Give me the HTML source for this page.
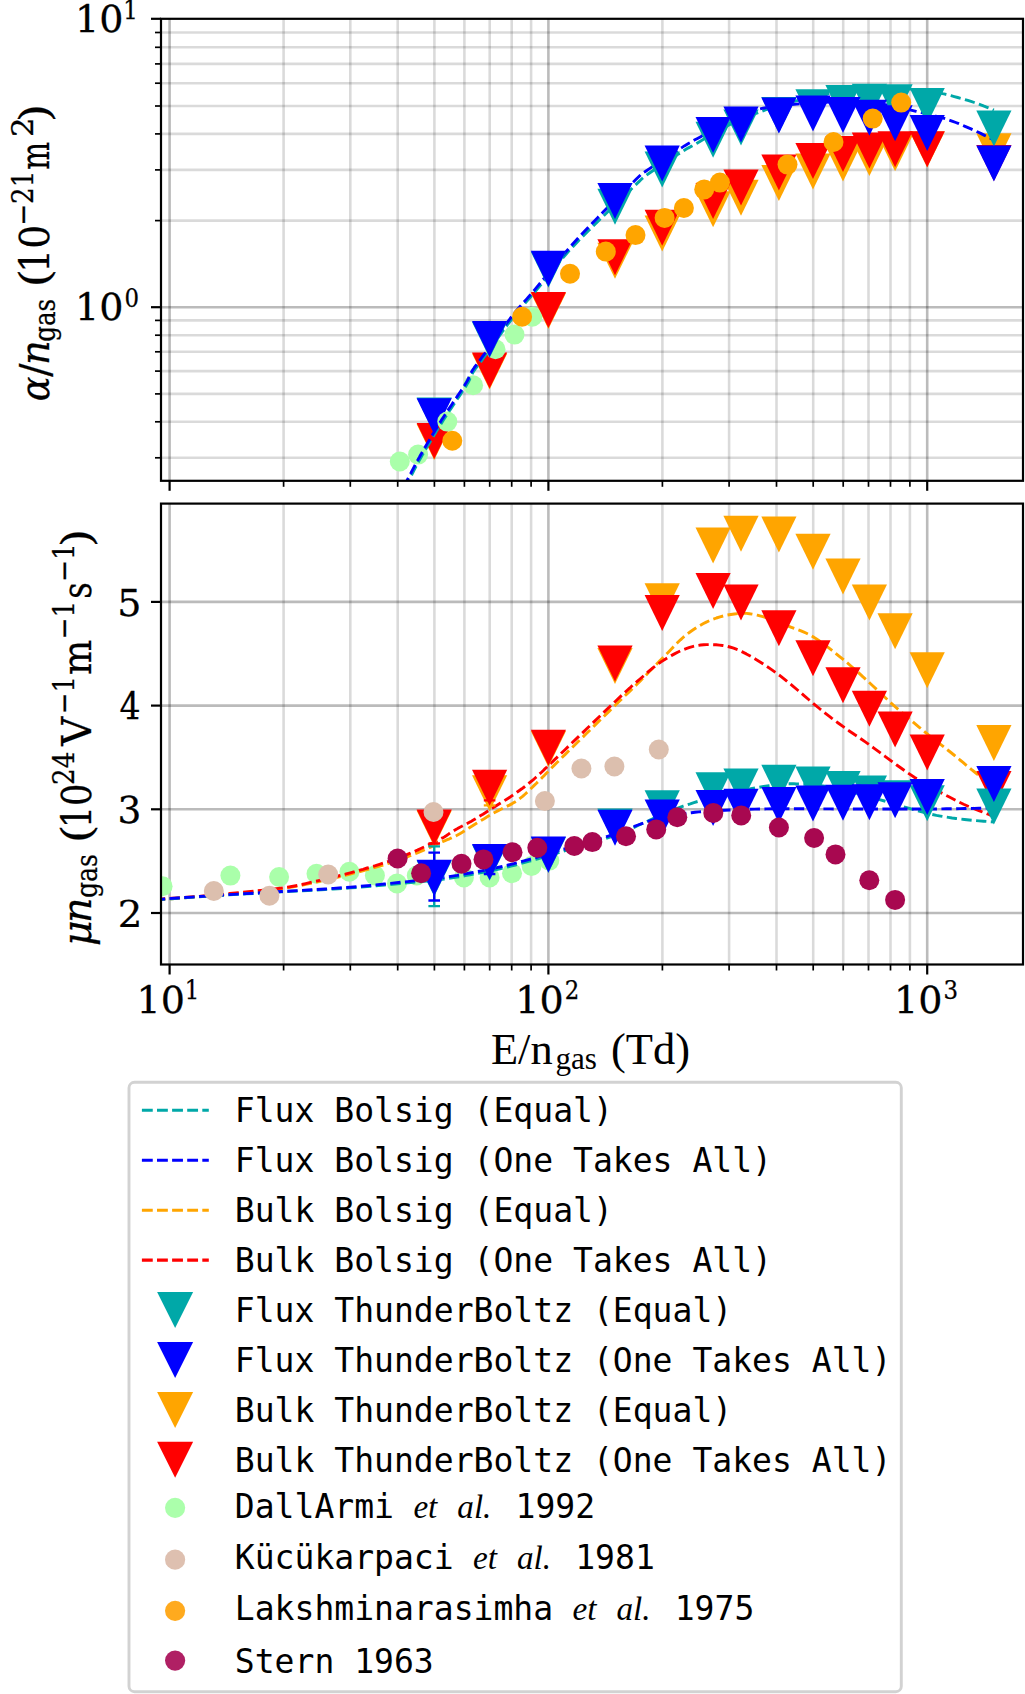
<!DOCTYPE html>
<html lang="en"><head><meta charset="utf-8"><title>Transport coefficients</title>
<style>html,body{margin:0;padding:0;background:#fff}svg{display:block}</style></head>
<body>
<svg width="1025" height="1694" viewBox="0 0 1025 1694">
<rect width="1025" height="1694" fill="#fff"/>
<defs><clipPath id="c1"><rect x="161.0" y="18.8" width="862.0" height="462.0"/></clipPath><clipPath id="c2"><rect x="161.0" y="503.6" width="862.0" height="460.9"/></clipPath></defs>
<g clip-path="url(#c1)">
<line x1="283.6" x2="283.6" y1="18.8" y2="480.8" stroke="#000" stroke-opacity="0.145" stroke-width="2.6"/><line x1="350.3" x2="350.3" y1="18.8" y2="480.8" stroke="#000" stroke-opacity="0.145" stroke-width="2.6"/><line x1="397.7" x2="397.7" y1="18.8" y2="480.8" stroke="#000" stroke-opacity="0.145" stroke-width="2.6"/><line x1="434.4" x2="434.4" y1="18.8" y2="480.8" stroke="#000" stroke-opacity="0.145" stroke-width="2.6"/><line x1="464.4" x2="464.4" y1="18.8" y2="480.8" stroke="#000" stroke-opacity="0.145" stroke-width="2.6"/><line x1="489.7" x2="489.7" y1="18.8" y2="480.8" stroke="#000" stroke-opacity="0.145" stroke-width="2.6"/><line x1="511.7" x2="511.7" y1="18.8" y2="480.8" stroke="#000" stroke-opacity="0.145" stroke-width="2.6"/><line x1="531.1" x2="531.1" y1="18.8" y2="480.8" stroke="#000" stroke-opacity="0.145" stroke-width="2.6"/><line x1="662.4" x2="662.4" y1="18.8" y2="480.8" stroke="#000" stroke-opacity="0.145" stroke-width="2.6"/><line x1="729.1" x2="729.1" y1="18.8" y2="480.8" stroke="#000" stroke-opacity="0.145" stroke-width="2.6"/><line x1="776.5" x2="776.5" y1="18.8" y2="480.8" stroke="#000" stroke-opacity="0.145" stroke-width="2.6"/><line x1="813.2" x2="813.2" y1="18.8" y2="480.8" stroke="#000" stroke-opacity="0.145" stroke-width="2.6"/><line x1="843.2" x2="843.2" y1="18.8" y2="480.8" stroke="#000" stroke-opacity="0.145" stroke-width="2.6"/><line x1="868.5" x2="868.5" y1="18.8" y2="480.8" stroke="#000" stroke-opacity="0.145" stroke-width="2.6"/><line x1="890.5" x2="890.5" y1="18.8" y2="480.8" stroke="#000" stroke-opacity="0.145" stroke-width="2.6"/><line x1="909.9" x2="909.9" y1="18.8" y2="480.8" stroke="#000" stroke-opacity="0.145" stroke-width="2.6"/><line x1="169.6" x2="169.6" y1="18.8" y2="480.8" stroke="#000" stroke-opacity="0.265" stroke-width="2.6"/><line x1="548.4" x2="548.4" y1="18.8" y2="480.8" stroke="#000" stroke-opacity="0.265" stroke-width="2.6"/><line x1="927.2" x2="927.2" y1="18.8" y2="480.8" stroke="#000" stroke-opacity="0.265" stroke-width="2.6"/>
<line x1="161.0" x2="1023.0" y1="457.8" y2="457.8" stroke="#000" stroke-opacity="0.145" stroke-width="2.6"/>
<line x1="161.0" x2="1023.0" y1="421.8" y2="421.8" stroke="#000" stroke-opacity="0.145" stroke-width="2.6"/>
<line x1="161.0" x2="1023.0" y1="393.9" y2="393.9" stroke="#000" stroke-opacity="0.145" stroke-width="2.6"/>
<line x1="161.0" x2="1023.0" y1="371.1" y2="371.1" stroke="#000" stroke-opacity="0.145" stroke-width="2.6"/>
<line x1="161.0" x2="1023.0" y1="351.8" y2="351.8" stroke="#000" stroke-opacity="0.145" stroke-width="2.6"/>
<line x1="161.0" x2="1023.0" y1="335.2" y2="335.2" stroke="#000" stroke-opacity="0.145" stroke-width="2.6"/>
<line x1="161.0" x2="1023.0" y1="320.4" y2="320.4" stroke="#000" stroke-opacity="0.145" stroke-width="2.6"/>
<line x1="161.0" x2="1023.0" y1="220.6" y2="220.6" stroke="#000" stroke-opacity="0.145" stroke-width="2.6"/>
<line x1="161.0" x2="1023.0" y1="169.9" y2="169.9" stroke="#000" stroke-opacity="0.145" stroke-width="2.6"/>
<line x1="161.0" x2="1023.0" y1="133.9" y2="133.9" stroke="#000" stroke-opacity="0.145" stroke-width="2.6"/>
<line x1="161.0" x2="1023.0" y1="106.0" y2="106.0" stroke="#000" stroke-opacity="0.145" stroke-width="2.6"/>
<line x1="161.0" x2="1023.0" y1="83.2" y2="83.2" stroke="#000" stroke-opacity="0.145" stroke-width="2.6"/>
<line x1="161.0" x2="1023.0" y1="63.9" y2="63.9" stroke="#000" stroke-opacity="0.145" stroke-width="2.6"/>
<line x1="161.0" x2="1023.0" y1="47.3" y2="47.3" stroke="#000" stroke-opacity="0.145" stroke-width="2.6"/>
<line x1="161.0" x2="1023.0" y1="32.5" y2="32.5" stroke="#000" stroke-opacity="0.145" stroke-width="2.6"/>
<line x1="161.0" x2="1023.0" y1="307.2" y2="307.2" stroke="#000" stroke-opacity="0.265" stroke-width="2.6"/>
<polygon points="416.6,424.0 451.8,424.0 434.2,460.0" fill="#ffa500"/>
<polygon points="416.6,422.9 451.8,422.9 434.2,458.9" fill="#ff0000"/>
<polygon points="416.6,397.4 451.8,397.4 434.2,433.4" fill="#00a8a8"/>
<polygon points="416.6,398.3 451.8,398.3 434.2,434.3" fill="#0000ff"/>
<polygon points="472.0,353.6 507.2,353.6 489.6,389.6" fill="#ffa500"/><polygon points="530.8,293.0 566.0,293.0 548.4,329.0" fill="#ffa500"/><polygon points="597.4,242.8 632.6,242.8 615.0,278.8" fill="#ffa500"/><polygon points="644.6,215.4 679.8,215.4 662.2,251.4" fill="#ffa500"/><polygon points="695.5,191.3 730.7,191.3 713.1,227.3" fill="#ffa500"/><polygon points="723.4,179.8 758.6,179.8 741.0,215.8" fill="#ffa500"/><polygon points="761.3,164.9 796.5,164.9 778.9,200.9" fill="#ffa500"/><polygon points="795.4,153.5 830.6,153.5 813.0,189.5" fill="#ffa500"/><polygon points="825.4,145.5 860.6,145.5 843.0,181.5" fill="#ffa500"/><polygon points="851.8,140.0 887.0,140.0 869.4,176.0" fill="#ffa500"/><polygon points="877.5,135.2 912.7,135.2 895.1,171.2" fill="#ffa500"/><polygon points="909.6,131.5 944.8,131.5 927.2,167.5" fill="#ffa500"/><polygon points="976.3,133.2 1011.5,133.2 993.9,169.2" fill="#ffa500"/>
<polygon points="472.0,352.6 507.2,352.6 489.6,388.6" fill="#ff0000"/>
<circle cx="399.8" cy="461.5" r="10.0" fill="#aaffaa"/><circle cx="418.1" cy="454.6" r="10.0" fill="#aaffaa"/><circle cx="447.3" cy="421.6" r="10.0" fill="#aaffaa"/><circle cx="473.1" cy="385.3" r="10.0" fill="#aaffaa"/><circle cx="495.5" cy="349.3" r="10.0" fill="#aaffaa"/><circle cx="514.5" cy="334.6" r="10.0" fill="#aaffaa"/><circle cx="532.3" cy="316.8" r="10.0" fill="#aaffaa"/>
<polygon points="530.8,292.0 566.0,292.0 548.4,328.0" fill="#ff0000"/><polygon points="597.4,239.2 632.6,239.2 615.0,275.2" fill="#ff0000"/><polygon points="644.6,209.7 679.8,209.7 662.2,245.7" fill="#ff0000"/><polygon points="695.5,183.1 730.7,183.1 713.1,219.1" fill="#ff0000"/><polygon points="723.4,169.6 758.6,169.6 741.0,205.6" fill="#ff0000"/><polygon points="761.3,154.4 796.5,154.4 778.9,190.4" fill="#ff0000"/><polygon points="795.4,143.1 830.6,143.1 813.0,179.1" fill="#ff0000"/><polygon points="825.4,136.0 860.6,136.0 843.0,172.0" fill="#ff0000"/><polygon points="851.8,132.5 887.0,132.5 869.4,168.5" fill="#ff0000"/><polygon points="877.5,131.3 912.7,131.3 895.1,167.3" fill="#ff0000"/><polygon points="909.6,131.2 944.8,131.2 927.2,167.2" fill="#ff0000"/><polygon points="976.3,144.9 1011.5,144.9 993.9,180.9" fill="#ff0000"/>
<path d="M404.5,488.3 L404.9,487.6 L405.3,486.8 L405.9,485.8 L406.5,484.7 L407.1,483.5 L407.9,482.1 L408.7,480.6 L409.6,478.9 L410.5,477.1 L411.6,475.1 L412.6,473.0 L413.8,470.7 L415.0,468.4 L416.3,465.9 L417.6,463.4 L419.0,460.9 L420.5,458.3 L422.0,455.5 L423.7,452.7 L425.4,449.7 L427.1,446.8 L428.9,443.9 L430.6,441.0 L432.2,438.3 L433.8,435.6 L435.4,433.0 L436.9,430.4 L438.5,427.9 L440.0,425.4 L441.6,422.9 L443.1,420.4 L444.7,418.0 L446.3,415.6 L447.9,413.1 L449.5,410.7 L451.1,408.4 L452.7,406.0 L454.2,403.7 L455.7,401.5 L457.2,399.3 L458.6,397.2 L460.0,395.1 L461.4,393.0 L462.7,391.0 L464.0,389.1 L465.2,387.2 L466.3,385.4 L467.4,383.6 L468.4,381.9 L469.2,380.3 L469.9,378.7 L470.6,377.2 L471.3,375.7 L472.0,374.3 L472.7,372.9 L473.5,371.5 L474.3,370.3 L475.0,369.3 L475.6,368.4 L476.3,367.5 L477.1,366.6 L478.0,365.4 L479.1,363.9 L480.5,362.1 L482.1,359.8 L484.0,357.2 L486.1,354.3 L488.3,351.1 L490.6,347.9 L492.9,344.6 L495.2,341.4 L497.5,338.3 L499.7,335.3 L502.0,332.2 L504.3,329.1 L506.6,326.0 L508.9,322.9 L511.2,319.8 L513.6,316.8 L516.0,313.8 L518.3,311.0 L520.6,308.3 L522.9,305.7 L525.2,303.1 L527.6,300.4 L530.1,297.6 L532.8,294.4 L535.8,290.9 L539.1,286.9 L542.7,282.5 L546.5,277.8 L550.4,272.9 L554.5,267.9 L558.4,263.1 L562.3,258.5 L566.0,254.2 L569.4,250.4 L572.6,246.9 L575.7,243.7 L578.7,240.5 L581.8,237.3 L585.2,234.0 L588.9,230.3 L593.0,226.2 L597.8,221.4 L603.4,216.0 L609.3,210.2 L615.4,204.2 L621.5,198.4 L627.1,193.0 L632.1,188.2 L636.1,184.4 L639.0,181.6 L640.9,179.8 L642.2,178.5 L643.1,177.7 L643.9,177.0 L644.9,176.3 L646.4,175.2 L648.8,173.5 L652.1,171.2 L656.0,168.5 L660.5,165.6 L665.1,162.6 L669.8,159.5 L674.3,156.6 L678.4,154.1 L681.8,151.9 L684.4,150.3 L686.4,149.1 L688.0,148.1 L689.4,147.4 L690.8,146.6 L692.4,145.8 L694.4,144.7 L697.0,143.2 L700.3,141.3 L704.0,139.1 L708.1,136.7 L712.4,134.2 L716.8,131.6 L721.3,129.1 L725.8,126.7 L730.0,124.5 L734.2,122.5 L738.4,120.6 L742.6,118.8 L746.9,117.0 L751.1,115.3 L755.2,113.7 L759.2,112.2 L763.0,110.8 L766.7,109.5 L770.3,108.3 L773.7,107.2 L777.1,106.1 L780.4,105.2 L783.7,104.3 L786.9,103.4 L790.0,102.5 L793.0,101.7 L795.9,100.9 L798.6,100.3 L801.3,99.6 L804.0,99.0 L806.9,98.3 L809.8,97.7 L813.0,97.0 L816.4,96.3 L820.1,95.5 L823.9,94.7 L827.8,93.8 L831.7,93.1 L835.6,92.3 L839.4,91.6 L843.0,91.0 L846.4,90.5 L849.8,90.0 L853.0,89.5 L856.2,89.1 L859.4,88.8 L862.6,88.5 L865.8,88.2 L869.0,88.0 L872.2,87.8 L875.4,87.7 L878.5,87.7 L881.6,87.6 L884.8,87.7 L888.1,87.7 L891.5,87.9 L895.0,88.0 L898.8,88.2 L902.9,88.4 L907.2,88.7 L911.5,89.1 L915.8,89.4 L919.8,89.8 L923.6,90.2 L927.0,90.6 L929.9,91.0 L932.3,91.3 L934.4,91.7 L936.4,92.1 L938.3,92.5 L940.3,93.0 L942.5,93.6 L945.0,94.2 L947.9,94.9 L951.0,95.7 L954.3,96.6 L957.7,97.5 L961.1,98.4 L964.5,99.4 L967.8,100.4 L971.0,101.4 L974.2,102.5 L977.5,103.7 L980.8,104.9 L984.1,106.2 L987.1,107.3 L989.9,108.4 L992.2,109.3 L993.9,110.0" fill="none" stroke="#00a8a8" stroke-width="2.9" stroke-dasharray="10.3 4.45" stroke-dashoffset="0" stroke-linejoin="round"/>
<path d="M403.5,487.0 L403.9,486.3 L404.3,485.5 L404.9,484.5 L405.5,483.4 L406.1,482.2 L406.9,480.8 L407.7,479.3 L408.6,477.6 L409.5,475.8 L410.6,473.8 L411.6,471.7 L412.8,469.4 L414.0,467.1 L415.3,464.6 L416.6,462.1 L418.0,459.6 L419.5,457.0 L421.0,454.2 L422.7,451.4 L424.4,448.4 L426.1,445.5 L427.9,442.6 L429.6,439.7 L431.2,437.0 L432.8,434.3 L434.4,431.7 L435.9,429.1 L437.5,426.6 L439.0,424.1 L440.6,421.6 L442.1,419.1 L443.7,416.7 L445.3,414.3 L446.9,411.8 L448.5,409.4 L450.1,407.1 L451.7,404.7 L453.2,402.4 L454.7,400.2 L456.2,398.0 L457.6,395.9 L459.0,393.8 L460.4,391.7 L461.7,389.7 L463.0,387.8 L464.2,385.9 L465.3,384.1 L466.4,382.3 L467.4,380.6 L468.2,379.0 L468.9,377.4 L469.6,375.9 L470.3,374.4 L471.0,373.0 L471.7,371.6 L472.5,370.2 L473.3,369.0 L474.0,368.0 L474.6,367.1 L475.3,366.2 L476.1,365.3 L477.0,364.1 L478.1,362.6 L479.5,360.8 L481.1,358.5 L483.0,355.9 L485.1,353.0 L487.3,349.8 L489.6,346.6 L491.9,343.3 L494.2,340.1 L496.5,337.0 L498.7,334.0 L501.0,330.9 L503.3,327.8 L505.6,324.7 L507.9,321.6 L510.2,318.5 L512.6,315.5 L515.0,312.5 L517.3,309.7 L519.6,307.0 L521.9,304.4 L524.2,301.8 L526.6,299.1 L529.1,296.3 L531.8,293.1 L534.8,289.6 L538.1,285.6 L541.7,281.3 L545.5,276.6 L549.4,271.7 L553.4,266.8 L557.4,262.0 L561.3,257.3 L565.0,252.9 L568.5,248.9 L571.8,245.1 L575.0,241.6 L578.2,238.0 L581.5,234.5 L585.0,230.8 L588.8,226.8 L593.0,222.4 L597.9,217.4 L603.4,211.7 L609.4,205.7 L615.5,199.6 L621.5,193.6 L627.1,188.1 L632.1,183.2 L636.1,179.3 L639.0,176.5 L640.9,174.7 L642.2,173.6 L643.1,172.9 L643.9,172.3 L644.9,171.7 L646.4,170.7 L648.8,169.1 L652.1,166.9 L656.0,164.2 L660.5,161.3 L665.1,158.3 L669.8,155.2 L674.3,152.4 L678.4,149.8 L681.8,147.6 L684.4,145.9 L686.4,144.7 L688.0,143.7 L689.4,142.9 L690.8,142.1 L692.4,141.2 L694.4,140.1 L697.0,138.7 L700.3,136.9 L704.0,134.8 L708.1,132.5 L712.4,130.1 L716.8,127.7 L721.3,125.3 L725.8,123.0 L730.0,121.0 L734.0,119.1 L737.9,117.3 L741.6,115.5 L745.4,113.8 L749.4,112.2 L753.6,110.8 L758.1,109.4 L763.0,108.2 L768.5,107.2 L774.5,106.3 L780.8,105.5 L787.4,104.9 L794.0,104.3 L800.6,103.8 L807.0,103.4 L813.0,103.0 L818.7,102.6 L824.3,102.3 L829.8,102.1 L835.2,101.9 L840.5,101.8 L845.7,101.8 L850.9,101.9 L856.0,102.0 L861.2,102.3 L866.6,102.7 L872.0,103.1 L877.2,103.7 L882.3,104.3 L887.0,104.9 L891.3,105.5 L895.0,106.0 L898.0,106.5 L900.4,107.0 L902.3,107.4 L903.9,107.9 L905.3,108.4 L906.7,108.8 L908.2,109.3 L910.0,109.8 L912.0,110.3 L914.0,110.8 L916.1,111.3 L918.2,111.8 L920.3,112.3 L922.5,112.9 L924.7,113.4 L927.0,114.0 L929.3,114.6 L931.7,115.1 L934.1,115.7 L936.6,116.3 L939.1,116.9 L941.6,117.6 L944.3,118.4 L947.0,119.3 L949.8,120.3 L952.7,121.4 L955.8,122.5 L958.8,123.7 L961.9,125.0 L965.0,126.3 L968.0,127.6 L971.0,128.9 L974.1,130.3 L977.3,131.8 L980.7,133.4 L984.0,135.1 L987.0,136.6 L989.8,138.0 L992.1,139.1 L993.9,140.0" fill="none" stroke="#0000ff" stroke-width="2.9" stroke-dasharray="10.3 4.45" stroke-dashoffset="0" stroke-linejoin="round"/>
<polygon points="472.0,321.9 507.2,321.9 489.6,357.9" fill="#00a8a8"/><polygon points="530.8,251.8 566.0,251.8 548.4,287.8" fill="#00a8a8"/><polygon points="597.4,188.7 632.6,188.7 615.0,224.7" fill="#00a8a8"/><polygon points="644.6,151.4 679.8,151.4 662.2,187.4" fill="#00a8a8"/><polygon points="695.5,121.7 730.7,121.7 713.1,157.7" fill="#00a8a8"/><polygon points="723.4,109.5 758.6,109.5 741.0,145.5" fill="#00a8a8"/><polygon points="761.3,97.0 796.5,97.0 778.9,133.0" fill="#00a8a8"/><polygon points="795.4,89.3 830.6,89.3 813.0,125.3" fill="#00a8a8"/><polygon points="825.4,85.1 860.6,85.1 843.0,121.1" fill="#00a8a8"/><polygon points="851.8,83.7 887.0,83.7 869.4,119.7" fill="#00a8a8"/><polygon points="877.5,84.2 912.7,84.2 895.1,120.2" fill="#00a8a8"/><polygon points="909.6,88.1 944.8,88.1 927.2,124.1" fill="#00a8a8"/><polygon points="976.3,110.5 1011.5,110.5 993.9,146.5" fill="#00a8a8"/>
<polygon points="472.0,320.9 507.2,320.9 489.6,356.9" fill="#0000ff"/><polygon points="530.8,250.8 566.0,250.8 548.4,286.8" fill="#0000ff"/><polygon points="597.4,183.1 632.6,183.1 615.0,219.1" fill="#0000ff"/><polygon points="644.6,145.5 679.8,145.5 662.2,181.5" fill="#0000ff"/><polygon points="695.5,117.1 730.7,117.1 713.1,153.1" fill="#0000ff"/><polygon points="723.4,106.4 758.6,106.4 741.0,142.4" fill="#0000ff"/><polygon points="761.3,97.6 796.5,97.6 778.9,133.6" fill="#0000ff"/><polygon points="795.4,95.6 830.6,95.6 813.0,131.6" fill="#0000ff"/><polygon points="825.4,97.0 860.6,97.0 843.0,133.0" fill="#0000ff"/><polygon points="851.8,99.8 887.0,99.8 869.4,135.8" fill="#0000ff"/><polygon points="877.5,105.3 912.7,105.3 895.1,141.3" fill="#0000ff"/><polygon points="909.6,115.0 944.8,115.0 927.2,151.0" fill="#0000ff"/><polygon points="976.3,145.6 1011.5,145.6 993.9,181.6" fill="#0000ff"/>
<circle cx="452.3" cy="440.7" r="10.0" fill="#ffa500"/><circle cx="522.1" cy="316.8" r="10.0" fill="#ffa500"/><circle cx="570.0" cy="273.8" r="10.0" fill="#ffa500"/><circle cx="605.8" cy="251.6" r="10.0" fill="#ffa500"/><circle cx="635.5" cy="235.1" r="10.0" fill="#ffa500"/><circle cx="664.6" cy="217.9" r="10.0" fill="#ffa500"/><circle cx="683.9" cy="208.0" r="10.0" fill="#ffa500"/><circle cx="704.2" cy="189.4" r="10.0" fill="#ffa500"/><circle cx="719.9" cy="182.6" r="10.0" fill="#ffa500"/><circle cx="787.5" cy="164.6" r="10.0" fill="#ffa500"/><circle cx="833.5" cy="142.0" r="10.0" fill="#ffa500"/><circle cx="872.7" cy="118.6" r="10.0" fill="#ffa500"/><circle cx="901.2" cy="102.6" r="10.0" fill="#ffa500"/>
</g>
<g clip-path="url(#c2)">
<line x1="283.6" x2="283.6" y1="503.6" y2="964.5" stroke="#000" stroke-opacity="0.145" stroke-width="2.6"/><line x1="350.3" x2="350.3" y1="503.6" y2="964.5" stroke="#000" stroke-opacity="0.145" stroke-width="2.6"/><line x1="397.7" x2="397.7" y1="503.6" y2="964.5" stroke="#000" stroke-opacity="0.145" stroke-width="2.6"/><line x1="434.4" x2="434.4" y1="503.6" y2="964.5" stroke="#000" stroke-opacity="0.145" stroke-width="2.6"/><line x1="464.4" x2="464.4" y1="503.6" y2="964.5" stroke="#000" stroke-opacity="0.145" stroke-width="2.6"/><line x1="489.7" x2="489.7" y1="503.6" y2="964.5" stroke="#000" stroke-opacity="0.145" stroke-width="2.6"/><line x1="511.7" x2="511.7" y1="503.6" y2="964.5" stroke="#000" stroke-opacity="0.145" stroke-width="2.6"/><line x1="531.1" x2="531.1" y1="503.6" y2="964.5" stroke="#000" stroke-opacity="0.145" stroke-width="2.6"/><line x1="662.4" x2="662.4" y1="503.6" y2="964.5" stroke="#000" stroke-opacity="0.145" stroke-width="2.6"/><line x1="729.1" x2="729.1" y1="503.6" y2="964.5" stroke="#000" stroke-opacity="0.145" stroke-width="2.6"/><line x1="776.5" x2="776.5" y1="503.6" y2="964.5" stroke="#000" stroke-opacity="0.145" stroke-width="2.6"/><line x1="813.2" x2="813.2" y1="503.6" y2="964.5" stroke="#000" stroke-opacity="0.145" stroke-width="2.6"/><line x1="843.2" x2="843.2" y1="503.6" y2="964.5" stroke="#000" stroke-opacity="0.145" stroke-width="2.6"/><line x1="868.5" x2="868.5" y1="503.6" y2="964.5" stroke="#000" stroke-opacity="0.145" stroke-width="2.6"/><line x1="890.5" x2="890.5" y1="503.6" y2="964.5" stroke="#000" stroke-opacity="0.145" stroke-width="2.6"/><line x1="909.9" x2="909.9" y1="503.6" y2="964.5" stroke="#000" stroke-opacity="0.145" stroke-width="2.6"/><line x1="169.6" x2="169.6" y1="503.6" y2="964.5" stroke="#000" stroke-opacity="0.265" stroke-width="2.6"/><line x1="548.4" x2="548.4" y1="503.6" y2="964.5" stroke="#000" stroke-opacity="0.265" stroke-width="2.6"/><line x1="927.2" x2="927.2" y1="503.6" y2="964.5" stroke="#000" stroke-opacity="0.265" stroke-width="2.6"/>
<line x1="161.0" x2="1023.0" y1="913.0" y2="913.0" stroke="#000" stroke-opacity="0.265" stroke-width="2.6"/>
<line x1="161.0" x2="1023.0" y1="809.3" y2="809.3" stroke="#000" stroke-opacity="0.265" stroke-width="2.6"/>
<line x1="161.0" x2="1023.0" y1="705.6" y2="705.6" stroke="#000" stroke-opacity="0.265" stroke-width="2.6"/>
<line x1="161.0" x2="1023.0" y1="601.9" y2="601.9" stroke="#000" stroke-opacity="0.265" stroke-width="2.6"/>
<circle cx="162.6" cy="886.3" r="10.0" fill="#aaffaa"/><circle cx="230.4" cy="875.6" r="10.0" fill="#aaffaa"/><circle cx="279.1" cy="877.0" r="10.0" fill="#aaffaa"/><circle cx="316.5" cy="873.7" r="10.0" fill="#aaffaa"/><circle cx="349.4" cy="871.8" r="10.0" fill="#aaffaa"/><circle cx="374.9" cy="875.5" r="10.0" fill="#aaffaa"/><circle cx="397.0" cy="883.5" r="10.0" fill="#aaffaa"/><circle cx="416.8" cy="875.5" r="10.0" fill="#aaffaa"/><circle cx="463.9" cy="877.4" r="10.0" fill="#aaffaa"/><circle cx="489.6" cy="877.4" r="10.0" fill="#aaffaa"/><circle cx="512.0" cy="873.3" r="10.0" fill="#aaffaa"/><circle cx="531.6" cy="866.0" r="10.0" fill="#aaffaa"/><circle cx="549.3" cy="860.6" r="10.0" fill="#aaffaa"/>
<path d="M155.0,899.8 L155.3,899.8 L155.4,899.8 L155.4,899.8 L155.6,899.8 L156.3,899.8 L157.5,899.7 L159.5,899.5 L162.6,899.3 L166.8,899.0 L171.8,898.7 L177.7,898.3 L184.1,897.8 L191.1,897.3 L198.4,896.7 L205.8,896.1 L213.3,895.5 L221.2,894.8 L229.9,894.0 L239.1,893.1 L248.5,892.2 L257.7,891.3 L266.6,890.4 L274.7,889.5 L281.8,888.6 L287.8,887.8 L293.1,886.9 L297.7,886.1 L301.8,885.3 L305.7,884.4 L309.5,883.6 L313.3,882.7 L317.4,881.8 L321.6,880.9 L325.8,879.9 L329.9,879.0 L334.0,878.0 L338.1,877.1 L342.1,876.1 L346.2,875.0 L350.3,874.0 L354.4,872.9 L358.6,871.9 L362.8,870.8 L366.9,869.7 L371.1,868.6 L375.2,867.4 L379.3,866.2 L383.3,865.0 L387.3,863.7 L391.2,862.5 L395.1,861.1 L399.0,859.8 L402.8,858.4 L406.5,857.1 L410.2,855.7 L413.8,854.3 L417.3,852.9 L420.8,851.4 L424.3,849.9 L427.7,848.4 L431.0,846.9 L434.1,845.5 L437.1,844.1 L440.0,842.8 L442.6,841.6 L445.1,840.6 L447.3,839.7 L449.5,838.8 L451.5,837.9 L453.6,836.9 L455.8,835.9 L458.0,834.7 L460.3,833.4 L462.7,832.0 L465.0,830.5 L467.4,829.0 L469.8,827.5 L472.2,826.0 L474.5,824.5 L476.9,823.0 L479.2,821.6 L481.5,820.2 L483.8,818.9 L486.1,817.5 L488.4,816.1 L490.7,814.8 L493.1,813.4 L495.6,812.0 L498.2,810.6 L500.9,809.2 L503.7,807.9 L506.6,806.5 L509.4,805.1 L512.2,803.6 L514.9,802.0 L517.5,800.3 L520.0,798.4 L522.6,796.4 L525.0,794.2 L527.5,791.9 L529.8,789.7 L532.1,787.5 L534.2,785.4 L536.2,783.5 L538.0,781.7 L539.7,780.1 L541.3,778.5 L542.7,777.0 L544.2,775.6 L545.5,774.1 L546.9,772.7 L548.4,771.2 L549.6,770.0 L550.3,769.2 L550.9,768.6 L551.5,768.0 L552.5,767.0 L554.1,765.4 L556.5,763.0 L560.0,759.5 L565.0,754.6 L571.4,748.3 L578.8,741.0 L586.7,733.3 L594.7,725.4 L602.3,717.9 L609.3,711.1 L615.0,705.5 L619.6,701.0 L623.4,697.3 L626.7,694.1 L629.6,691.4 L632.1,688.9 L634.6,686.5 L637.2,684.0 L640.0,681.2 L642.9,678.3 L645.7,675.4 L648.4,672.6 L651.1,669.8 L653.8,667.0 L656.5,664.2 L659.3,661.4 L662.2,658.5 L665.1,655.5 L668.1,652.4 L671.2,649.2 L674.3,646.0 L677.4,642.8 L680.5,639.8 L683.6,637.0 L686.8,634.4 L690.0,632.0 L693.2,629.8 L696.4,627.6 L699.7,625.7 L703.0,623.8 L706.3,622.1 L709.6,620.6 L713.0,619.2 L716.4,618.0 L720.0,616.9 L723.6,615.9 L727.2,615.1 L730.8,614.5 L734.3,614.0 L737.7,613.6 L740.9,613.4 L743.9,613.3 L746.7,613.4 L749.4,613.7 L752.1,614.1 L754.7,614.6 L757.3,615.2 L760.0,615.9 L762.9,616.7 L765.9,617.6 L769.0,618.6 L772.2,619.7 L775.4,620.9 L778.7,622.2 L781.9,623.5 L785.1,624.8 L788.3,626.1 L791.4,627.3 L794.4,628.4 L797.4,629.5 L800.4,630.6 L803.4,631.9 L806.5,633.3 L809.7,634.9 L813.0,636.8 L816.5,639.0 L820.2,641.5 L824.0,644.3 L827.8,647.2 L831.7,650.2 L835.5,653.2 L839.3,656.3 L842.9,659.2 L846.4,662.1 L849.8,665.0 L853.2,668.0 L856.5,670.9 L859.8,673.9 L863.0,676.9 L866.3,679.8 L869.5,682.8 L872.7,685.7 L875.8,688.6 L878.8,691.5 L881.8,694.4 L884.9,697.3 L888.1,700.3 L891.4,703.4 L894.9,706.5 L898.6,709.8 L902.6,713.2 L906.7,716.7 L911.0,720.3 L915.2,723.9 L919.3,727.3 L923.4,730.7 L927.2,733.8 L930.8,736.8 L934.4,739.6 L937.8,742.3 L941.2,744.9 L944.5,747.5 L947.7,750.0 L950.9,752.5 L954.0,755.0 L957.1,757.5 L960.0,760.0 L963.0,762.4 L965.8,764.8 L968.6,767.1 L971.3,769.4 L974.0,771.5 L976.5,773.5 L979.0,775.4 L981.6,777.3 L984.2,779.2 L986.6,780.9 L988.9,782.5 L990.9,783.9 L992.6,785.1 L993.9,786.0" fill="none" stroke="#ffa500" stroke-width="2.9" stroke-dasharray="10.3 4.45" stroke-dashoffset="0" stroke-linejoin="round"/>
<path d="M155.0,899.5 L155.3,899.5 L155.4,899.5 L155.4,899.5 L155.6,899.5 L156.3,899.5 L157.5,899.4 L159.5,899.2 L162.6,899.0 L166.8,898.7 L171.8,898.3 L177.7,897.9 L184.1,897.5 L191.1,896.9 L198.4,896.4 L205.8,895.8 L213.3,895.1 L221.2,894.4 L229.9,893.5 L239.1,892.7 L248.5,891.8 L257.7,890.8 L266.6,889.9 L274.7,888.9 L281.8,888.0 L287.8,887.1 L293.1,886.2 L297.7,885.4 L301.8,884.5 L305.7,883.6 L309.5,882.7 L313.3,881.8 L317.4,880.9 L321.6,879.9 L325.8,879.0 L329.9,878.0 L334.0,877.0 L338.1,876.0 L342.1,875.0 L346.2,873.9 L350.3,872.8 L354.5,871.7 L358.7,870.5 L363.0,869.3 L367.2,868.0 L371.4,866.8 L375.5,865.6 L379.5,864.3 L383.3,863.1 L386.9,861.9 L390.3,860.8 L393.5,859.7 L396.7,858.5 L399.8,857.4 L403.0,856.1 L406.3,854.8 L409.7,853.4 L413.4,851.8 L417.4,850.1 L421.4,848.2 L425.6,846.3 L429.6,844.4 L433.4,842.6 L436.9,840.9 L440.0,839.3 L442.6,837.9 L444.7,836.7 L446.6,835.5 L448.2,834.4 L449.8,833.3 L451.3,832.3 L453.0,831.2 L455.0,830.0 L457.2,828.8 L459.4,827.5 L461.8,826.3 L464.2,825.0 L466.6,823.8 L469.0,822.5 L471.4,821.2 L473.8,819.8 L476.1,818.4 L478.4,817.0 L480.7,815.6 L483.0,814.2 L485.3,812.7 L487.6,811.2 L490.0,809.7 L492.5,808.1 L495.1,806.5 L497.8,804.8 L500.6,803.0 L503.4,801.3 L506.3,799.5 L509.1,797.7 L511.8,795.9 L514.4,794.1 L516.9,792.3 L519.4,790.5 L521.8,788.8 L524.2,787.0 L526.5,785.2 L528.7,783.4 L530.9,781.6 L533.1,779.8 L535.2,778.0 L537.3,776.2 L539.2,774.3 L541.2,772.5 L543.1,770.7 L544.9,768.9 L546.7,767.2 L548.4,765.6 L549.7,764.3 L550.5,763.6 L551.1,763.0 L551.7,762.5 L552.6,761.6 L554.1,760.1 L556.5,757.9 L560.0,754.5 L565.0,749.7 L571.4,743.5 L578.8,736.4 L586.7,728.8 L594.7,721.1 L602.3,713.8 L609.3,707.1 L615.0,701.7 L619.6,697.4 L623.4,693.8 L626.7,690.8 L629.6,688.2 L632.1,685.8 L634.6,683.6 L637.2,681.4 L640.0,679.0 L642.9,676.5 L645.7,674.1 L648.4,671.7 L651.1,669.4 L653.8,667.2 L656.5,665.1 L659.3,663.1 L662.2,661.1 L665.2,659.2 L668.2,657.4 L671.3,655.6 L674.5,653.9 L677.6,652.3 L680.7,650.8 L683.8,649.5 L686.8,648.4 L689.7,647.4 L692.5,646.6 L695.3,645.9 L698.0,645.4 L700.8,645.0 L703.7,644.7 L706.6,644.6 L709.7,644.6 L712.9,644.7 L716.1,644.8 L719.4,645.1 L722.7,645.5 L726.2,646.1 L729.8,647.0 L733.6,648.2 L737.6,649.7 L741.8,651.6 L746.3,653.9 L750.9,656.4 L755.6,659.2 L760.5,662.2 L765.5,665.5 L770.5,668.9 L775.6,672.5 L780.9,676.4 L786.5,680.9 L792.3,685.6 L798.1,690.5 L803.8,695.4 L809.2,700.0 L814.3,704.3 L818.8,708.0 L822.7,711.1 L826.1,713.8 L829.1,716.1 L831.9,718.3 L834.5,720.2 L837.1,722.2 L839.9,724.2 L842.9,726.4 L846.0,728.6 L848.9,730.7 L851.9,732.7 L854.9,734.8 L858.1,736.9 L861.5,739.3 L865.3,741.9 L869.5,744.9 L874.2,748.3 L879.4,752.2 L885.0,756.3 L890.8,760.7 L896.7,765.0 L902.7,769.3 L908.6,773.4 L914.3,777.2 L920.0,780.7 L925.8,784.2 L931.7,787.6 L937.6,790.8 L943.3,793.9 L948.9,796.8 L954.1,799.5 L959.0,802.0 L963.6,804.2 L968.1,806.2 L972.4,808.0 L976.4,809.6 L980.2,811.1 L983.5,812.4 L986.5,813.5 L988.9,814.5 L990.8,815.3 L992.0,815.9 L992.8,816.3 L993.3,816.5 L993.5,816.7 L993.6,816.8 L993.7,816.9 L993.9,817.0" fill="none" stroke="#ff0000" stroke-width="2.9" stroke-dasharray="10.3 4.45" stroke-dashoffset="0" stroke-linejoin="round"/>
<path d="M489.6,790.0 V805.4 M483.8,790.0 H495.4 M483.8,805.4 H495.4" stroke="#ffa500" stroke-width="2.3" fill="none"/>
<polygon points="416.6,810.5 451.8,810.5 434.2,846.5" fill="#ffa500"/><polygon points="472.0,775.2 507.2,775.2 489.6,811.2" fill="#ffa500"/><polygon points="530.8,731.0 566.0,731.0 548.4,767.0" fill="#ffa500"/><polygon points="597.4,648.0 632.6,648.0 615.0,684.0" fill="#ffa500"/><polygon points="644.6,583.2 679.8,583.2 662.2,619.2" fill="#ffa500"/><polygon points="695.5,527.4 730.7,527.4 713.1,563.4" fill="#ffa500"/><polygon points="723.4,515.7 758.6,515.7 741.0,551.7" fill="#ffa500"/><polygon points="761.3,516.5 796.5,516.5 778.9,552.5" fill="#ffa500"/><polygon points="795.4,533.7 830.6,533.7 813.0,569.7" fill="#ffa500"/><polygon points="825.4,558.5 860.6,558.5 843.0,594.5" fill="#ffa500"/><polygon points="851.8,584.6 887.0,584.6 869.4,620.6" fill="#ffa500"/><polygon points="877.5,613.2 912.7,613.2 895.1,649.2" fill="#ffa500"/><polygon points="909.6,652.2 944.8,652.2 927.2,688.2" fill="#ffa500"/><polygon points="976.3,725.0 1011.5,725.0 993.9,761.0" fill="#ffa500"/>
<path d="M434.2,830.0 V843.5 M428.4,830.0 H440.0 M428.4,843.5 H440.0" stroke="#ff0000" stroke-width="2.3" fill="none"/>
<path d="M489.6,785.0 V800.4 M483.8,785.0 H495.4 M483.8,800.4 H495.4" stroke="#ff0000" stroke-width="2.3" fill="none"/>
<polygon points="416.6,809.6 451.8,809.6 434.2,845.6" fill="#ff0000"/><polygon points="472.0,769.8 507.2,769.8 489.6,805.8" fill="#ff0000"/><polygon points="530.8,729.7 566.0,729.7 548.4,765.7" fill="#ff0000"/><polygon points="597.4,645.6 632.6,645.6 615.0,681.6" fill="#ff0000"/><polygon points="644.6,595.1 679.8,595.1 662.2,631.1" fill="#ff0000"/><polygon points="695.5,573.1 730.7,573.1 713.1,609.1" fill="#ff0000"/><polygon points="723.4,584.5 758.6,584.5 741.0,620.5" fill="#ff0000"/><polygon points="761.3,610.3 796.5,610.3 778.9,646.3" fill="#ff0000"/><polygon points="795.4,640.2 830.6,640.2 813.0,676.2" fill="#ff0000"/><polygon points="825.4,667.2 860.6,667.2 843.0,703.2" fill="#ff0000"/><polygon points="851.8,690.8 887.0,690.8 869.4,726.8" fill="#ff0000"/><polygon points="877.5,711.4 912.7,711.4 895.1,747.4" fill="#ff0000"/><polygon points="909.6,734.5 944.8,734.5 927.2,770.5" fill="#ff0000"/><polygon points="976.3,770.9 1011.5,770.9 993.9,806.9" fill="#ff0000"/>
<path d="M155.0,900.3 L155.3,900.2 L155.4,900.2 L155.4,900.1 L155.6,900.1 L156.3,900.0 L157.5,899.8 L159.5,899.6 L162.6,899.4 L166.8,899.1 L171.8,898.7 L177.7,898.3 L184.1,897.8 L191.1,897.4 L198.4,896.9 L205.8,896.4 L213.3,895.9 L221.0,895.4 L229.2,894.9 L237.7,894.4 L246.4,893.9 L255.3,893.4 L264.3,892.9 L273.1,892.4 L281.8,891.9 L290.4,891.4 L299.0,890.9 L307.7,890.5 L316.4,890.0 L325.0,889.5 L333.5,889.0 L342.0,888.5 L350.3,887.9 L358.7,887.3 L367.3,886.6 L375.9,885.8 L384.4,885.0 L392.6,884.3 L400.4,883.6 L407.5,882.9 L413.8,882.3 L419.2,881.8 L423.8,881.4 L427.7,881.0 L431.2,880.6 L434.4,880.3 L437.5,879.9 L440.7,879.5 L444.0,879.1 L447.4,878.6 L450.7,878.1 L453.9,877.6 L457.0,877.1 L460.1,876.6 L463.3,876.0 L466.6,875.4 L470.0,874.8 L473.6,874.1 L477.5,873.4 L481.4,872.6 L485.4,871.8 L489.3,871.1 L493.1,870.3 L496.7,869.5 L500.0,868.8 L503.0,868.1 L505.8,867.5 L508.4,866.8 L510.9,866.2 L513.2,865.6 L515.5,865.0 L517.8,864.4 L520.0,863.8 L522.1,863.2 L524.0,862.7 L525.8,862.2 L527.6,861.7 L529.4,861.2 L531.3,860.7 L533.5,860.0 L536.0,859.3 L538.7,858.5 L541.6,857.6 L544.6,856.7 L547.8,855.8 L551.2,854.7 L554.9,853.6 L558.8,852.5 L563.0,851.2 L567.7,849.8 L573.1,848.3 L578.8,846.6 L584.7,844.9 L590.6,843.2 L596.2,841.6 L601.4,840.0 L606.0,838.5 L610.0,837.1 L613.5,835.9 L616.7,834.6 L619.6,833.4 L622.4,832.3 L625.0,831.2 L627.5,830.1 L630.0,829.0 L632.4,828.0 L634.6,827.1 L636.5,826.2 L638.5,825.3 L640.3,824.4 L642.3,823.5 L644.4,822.6 L646.8,821.5 L649.4,820.3 L652.0,819.1 L654.8,817.7 L657.7,816.4 L660.7,815.0 L663.7,813.6 L666.8,812.3 L670.0,811.0 L673.2,809.8 L676.5,808.5 L679.8,807.3 L683.2,806.1 L686.7,804.9 L690.3,803.8 L693.9,802.6 L697.6,801.5 L701.3,800.4 L705.1,799.3 L708.9,798.2 L712.8,797.2 L716.8,796.1 L721.0,795.1 L725.4,794.0 L730.0,793.0 L735.0,791.9 L740.5,790.8 L746.3,789.7 L752.2,788.5 L758.1,787.5 L763.7,786.5 L769.0,785.7 L773.7,785.0 L777.8,784.5 L781.4,784.2 L784.7,783.9 L787.7,783.8 L790.6,783.8 L793.6,783.8 L796.7,783.9 L800.0,784.0 L803.6,784.2 L807.4,784.4 L811.2,784.7 L815.1,785.1 L819.0,785.5 L822.8,785.9 L826.5,786.5 L830.0,787.0 L833.4,787.6 L836.6,788.3 L839.8,789.0 L842.8,789.8 L845.9,790.6 L848.9,791.4 L851.9,792.2 L855.0,793.0 L857.9,793.7 L860.6,794.4 L863.2,795.1 L865.8,795.8 L868.6,796.6 L871.8,797.4 L875.3,798.4 L879.5,799.6 L884.5,801.0 L890.1,802.7 L896.3,804.6 L902.8,806.5 L909.4,808.4 L915.8,810.3 L921.8,811.9 L927.2,813.3 L932.0,814.4 L936.4,815.4 L940.5,816.1 L944.5,816.8 L948.3,817.4 L952.1,818.0 L955.9,818.5 L960.0,819.0 L964.4,819.5 L969.2,820.0 L974.1,820.5 L979.0,820.9 L983.6,821.2 L987.8,821.5 L991.3,821.8 L993.9,822.0" fill="none" stroke="#00a8a8" stroke-width="2.9" stroke-dasharray="10.3 4.45" stroke-dashoffset="0" stroke-linejoin="round"/>
<path d="M155.0,900.0 L155.3,899.9 L155.4,899.9 L155.4,899.8 L155.6,899.8 L156.3,899.7 L157.5,899.5 L159.5,899.3 L162.6,899.1 L166.8,898.8 L171.8,898.4 L177.7,898.0 L184.1,897.5 L191.1,897.1 L198.4,896.6 L205.8,896.1 L213.3,895.6 L221.0,895.1 L229.2,894.6 L237.7,894.1 L246.4,893.6 L255.3,893.1 L264.3,892.6 L273.1,892.0 L281.8,891.5 L290.4,891.0 L299.0,890.5 L307.7,890.0 L316.4,889.5 L325.0,889.0 L333.5,888.4 L342.0,887.8 L350.3,887.2 L358.7,886.5 L367.3,885.7 L375.9,884.9 L384.4,884.0 L392.6,883.1 L400.4,882.3 L407.5,881.6 L413.8,880.9 L419.2,880.3 L423.8,879.8 L427.7,879.4 L431.2,879.0 L434.4,878.7 L437.5,878.3 L440.7,877.9 L444.0,877.4 L447.4,876.9 L450.7,876.4 L453.9,875.9 L457.0,875.4 L460.1,874.8 L463.3,874.2 L466.6,873.6 L470.0,873.0 L473.6,872.3 L477.5,871.6 L481.4,870.8 L485.4,870.0 L489.3,869.2 L493.1,868.5 L496.7,867.7 L500.0,867.0 L503.0,866.3 L505.8,865.7 L508.4,865.0 L510.9,864.4 L513.2,863.8 L515.5,863.2 L517.8,862.6 L520.0,862.0 L522.1,861.4 L524.0,860.9 L525.8,860.4 L527.6,859.9 L529.4,859.4 L531.3,858.9 L533.5,858.2 L536.0,857.5 L538.7,856.7 L541.6,855.8 L544.6,854.9 L547.8,853.9 L551.2,852.9 L554.9,851.8 L558.8,850.6 L563.0,849.4 L567.6,848.1 L572.7,846.7 L578.0,845.2 L583.6,843.6 L589.3,842.0 L595.0,840.4 L600.6,838.7 L606.0,837.0 L611.3,835.2 L616.8,833.2 L622.2,831.1 L627.6,829.0 L632.9,826.9 L637.9,825.0 L642.6,823.3 L646.8,821.8 L650.5,820.6 L653.8,819.6 L656.7,818.8 L659.4,818.2 L661.9,817.6 L664.5,817.1 L667.1,816.6 L670.0,816.0 L673.0,815.4 L675.9,814.9 L678.8,814.4 L681.8,813.9 L684.8,813.5 L688.0,813.1 L691.4,812.7 L695.0,812.3 L698.8,811.9 L702.8,811.6 L707.0,811.3 L711.3,811.0 L715.8,810.7 L720.4,810.5 L725.1,810.2 L730.0,810.0 L734.8,809.8 L739.5,809.6 L744.3,809.4 L749.3,809.2 L754.5,809.1 L760.3,809.0 L766.6,808.9 L773.7,808.8 L781.7,808.8 L790.5,808.8 L799.9,808.8 L809.8,808.8 L819.9,808.9 L830.1,808.9 L840.2,809.0 L850.0,809.0 L859.9,809.0 L870.2,809.0 L880.8,809.0 L891.2,809.0 L901.3,809.0 L910.8,809.0 L919.5,809.0 L927.0,809.0 L933.2,809.0 L938.3,808.9 L942.6,808.9 L946.2,808.8 L949.5,808.8 L952.7,808.7 L956.1,808.7 L960.0,808.6 L964.4,808.5 L969.2,808.5 L974.1,808.4 L979.0,808.3 L983.6,808.2 L987.8,808.1 L991.3,808.0 L993.9,808.0" fill="none" stroke="#0000ff" stroke-width="2.9" stroke-dasharray="10.3 4.45" stroke-dashoffset="0" stroke-linejoin="round"/>
<path d="M434.2,846.3 V906.2 M428.4,846.3 H440.0 M428.4,906.2 H440.0" stroke="#00a8a8" stroke-width="2.3" fill="none"/>
<polygon points="416.6,860.5 451.8,860.5 434.2,896.5" fill="#00a8a8"/><polygon points="472.0,844.8 507.2,844.8 489.6,880.8" fill="#00a8a8"/><polygon points="530.8,837.0 566.0,837.0 548.4,873.0" fill="#00a8a8"/><polygon points="597.4,808.6 632.6,808.6 615.0,844.6" fill="#00a8a8"/><polygon points="644.6,790.3 679.8,790.3 662.2,826.3" fill="#00a8a8"/><polygon points="695.5,772.3 730.7,772.3 713.1,808.3" fill="#00a8a8"/><polygon points="723.4,768.5 758.6,768.5 741.0,804.5" fill="#00a8a8"/><polygon points="761.3,764.7 796.5,764.7 778.9,800.7" fill="#00a8a8"/><polygon points="795.4,766.5 830.6,766.5 813.0,802.5" fill="#00a8a8"/><polygon points="825.4,771.0 860.6,771.0 843.0,807.0" fill="#00a8a8"/><polygon points="851.8,775.4 887.0,775.4 869.4,811.4" fill="#00a8a8"/><polygon points="877.5,780.2 912.7,780.2 895.1,816.2" fill="#00a8a8"/><polygon points="909.6,785.2 944.8,785.2 927.2,821.2" fill="#00a8a8"/><polygon points="976.3,788.5 1011.5,788.5 993.9,824.5" fill="#00a8a8"/>
<path d="M434.2,852.7 V900.5 M428.4,852.7 H440.0 M428.4,900.5 H440.0" stroke="#0000ff" stroke-width="2.3" fill="none"/>
<path d="M489.6,851.0 V874.0 M483.8,851.0 H495.4 M483.8,874.0 H495.4" stroke="#0000ff" stroke-width="2.3" fill="none"/>
<polygon points="416.6,859.7 451.8,859.7 434.2,895.7" fill="#0000ff"/><polygon points="472.0,844.0 507.2,844.0 489.6,880.0" fill="#0000ff"/><polygon points="530.8,836.4 566.0,836.4 548.4,872.4" fill="#0000ff"/><polygon points="597.4,809.8 632.6,809.8 615.0,845.8" fill="#0000ff"/><polygon points="644.6,799.4 679.8,799.4 662.2,835.4" fill="#0000ff"/><polygon points="695.5,790.0 730.7,790.0 713.1,826.0" fill="#0000ff"/><polygon points="723.4,788.8 758.6,788.8 741.0,824.8" fill="#0000ff"/><polygon points="761.3,787.0 796.5,787.0 778.9,823.0" fill="#0000ff"/><polygon points="795.4,785.4 830.6,785.4 813.0,821.4" fill="#0000ff"/><polygon points="825.4,784.7 860.6,784.7 843.0,820.7" fill="#0000ff"/><polygon points="851.8,784.2 887.0,784.2 869.4,820.2" fill="#0000ff"/><polygon points="877.5,782.2 912.7,782.2 895.1,818.2" fill="#0000ff"/><polygon points="909.6,778.9 944.8,778.9 927.2,814.9" fill="#0000ff"/><polygon points="976.3,766.0 1011.5,766.0 993.9,802.0" fill="#0000ff"/>
<circle cx="213.8" cy="891.0" r="10.0" fill="#dcbfae"/><circle cx="269.4" cy="895.7" r="10.0" fill="#dcbfae"/><circle cx="328.2" cy="874.5" r="10.0" fill="#dcbfae"/><circle cx="433.5" cy="812.0" r="10.0" fill="#dcbfae"/><circle cx="544.9" cy="801.0" r="10.0" fill="#dcbfae"/><circle cx="581.4" cy="768.5" r="10.0" fill="#dcbfae"/><circle cx="614.4" cy="766.5" r="10.0" fill="#dcbfae"/><circle cx="658.8" cy="749.5" r="10.0" fill="#dcbfae"/>
<circle cx="397.6" cy="858.5" r="10.0" fill="#a80850"/><circle cx="421.1" cy="873.3" r="10.0" fill="#a80850"/><circle cx="461.5" cy="863.8" r="10.0" fill="#a80850"/><circle cx="483.5" cy="859.4" r="10.0" fill="#a80850"/><circle cx="512.5" cy="852.2" r="10.0" fill="#a80850"/><circle cx="537.3" cy="847.8" r="10.0" fill="#a80850"/><circle cx="574.3" cy="846.0" r="10.0" fill="#a80850"/><circle cx="592.3" cy="842.1" r="10.0" fill="#a80850"/><circle cx="626.0" cy="836.2" r="10.0" fill="#a80850"/><circle cx="656.2" cy="829.4" r="10.0" fill="#a80850"/><circle cx="677.3" cy="817.2" r="10.0" fill="#a80850"/><circle cx="713.3" cy="812.9" r="10.0" fill="#a80850"/><circle cx="741.2" cy="815.4" r="10.0" fill="#a80850"/><circle cx="778.9" cy="827.5" r="10.0" fill="#a80850"/><circle cx="814.1" cy="838.0" r="10.0" fill="#a80850"/><circle cx="835.5" cy="854.4" r="10.0" fill="#a80850"/><circle cx="869.3" cy="880.3" r="10.0" fill="#a80850"/><circle cx="895.1" cy="899.9" r="10.0" fill="#a80850"/>
</g>
<rect x="161.0" y="18.8" width="862.0" height="462.0" fill="none" stroke="#000" stroke-width="2.2"/>
<rect x="161.0" y="503.6" width="862.0" height="460.9" fill="none" stroke="#000" stroke-width="2.2"/>
<line x1="169.6" x2="169.6" y1="480.8" y2="490.8" stroke="#000" stroke-width="2.2"/><line x1="548.4" x2="548.4" y1="480.8" y2="490.8" stroke="#000" stroke-width="2.2"/><line x1="927.2" x2="927.2" y1="480.8" y2="490.8" stroke="#000" stroke-width="2.2"/><line x1="283.6" x2="283.6" y1="480.8" y2="486.8" stroke="#000" stroke-width="1.7"/><line x1="350.3" x2="350.3" y1="480.8" y2="486.8" stroke="#000" stroke-width="1.7"/><line x1="397.7" x2="397.7" y1="480.8" y2="486.8" stroke="#000" stroke-width="1.7"/><line x1="434.4" x2="434.4" y1="480.8" y2="486.8" stroke="#000" stroke-width="1.7"/><line x1="464.4" x2="464.4" y1="480.8" y2="486.8" stroke="#000" stroke-width="1.7"/><line x1="489.7" x2="489.7" y1="480.8" y2="486.8" stroke="#000" stroke-width="1.7"/><line x1="511.7" x2="511.7" y1="480.8" y2="486.8" stroke="#000" stroke-width="1.7"/><line x1="531.1" x2="531.1" y1="480.8" y2="486.8" stroke="#000" stroke-width="1.7"/><line x1="662.4" x2="662.4" y1="480.8" y2="486.8" stroke="#000" stroke-width="1.7"/><line x1="729.1" x2="729.1" y1="480.8" y2="486.8" stroke="#000" stroke-width="1.7"/><line x1="776.5" x2="776.5" y1="480.8" y2="486.8" stroke="#000" stroke-width="1.7"/><line x1="813.2" x2="813.2" y1="480.8" y2="486.8" stroke="#000" stroke-width="1.7"/><line x1="843.2" x2="843.2" y1="480.8" y2="486.8" stroke="#000" stroke-width="1.7"/><line x1="868.5" x2="868.5" y1="480.8" y2="486.8" stroke="#000" stroke-width="1.7"/><line x1="890.5" x2="890.5" y1="480.8" y2="486.8" stroke="#000" stroke-width="1.7"/><line x1="909.9" x2="909.9" y1="480.8" y2="486.8" stroke="#000" stroke-width="1.7"/><line x1="169.6" x2="169.6" y1="964.5" y2="974.5" stroke="#000" stroke-width="2.2"/><line x1="548.4" x2="548.4" y1="964.5" y2="974.5" stroke="#000" stroke-width="2.2"/><line x1="927.2" x2="927.2" y1="964.5" y2="974.5" stroke="#000" stroke-width="2.2"/><line x1="283.6" x2="283.6" y1="964.5" y2="970.5" stroke="#000" stroke-width="1.7"/><line x1="350.3" x2="350.3" y1="964.5" y2="970.5" stroke="#000" stroke-width="1.7"/><line x1="397.7" x2="397.7" y1="964.5" y2="970.5" stroke="#000" stroke-width="1.7"/><line x1="434.4" x2="434.4" y1="964.5" y2="970.5" stroke="#000" stroke-width="1.7"/><line x1="464.4" x2="464.4" y1="964.5" y2="970.5" stroke="#000" stroke-width="1.7"/><line x1="489.7" x2="489.7" y1="964.5" y2="970.5" stroke="#000" stroke-width="1.7"/><line x1="511.7" x2="511.7" y1="964.5" y2="970.5" stroke="#000" stroke-width="1.7"/><line x1="531.1" x2="531.1" y1="964.5" y2="970.5" stroke="#000" stroke-width="1.7"/><line x1="662.4" x2="662.4" y1="964.5" y2="970.5" stroke="#000" stroke-width="1.7"/><line x1="729.1" x2="729.1" y1="964.5" y2="970.5" stroke="#000" stroke-width="1.7"/><line x1="776.5" x2="776.5" y1="964.5" y2="970.5" stroke="#000" stroke-width="1.7"/><line x1="813.2" x2="813.2" y1="964.5" y2="970.5" stroke="#000" stroke-width="1.7"/><line x1="843.2" x2="843.2" y1="964.5" y2="970.5" stroke="#000" stroke-width="1.7"/><line x1="868.5" x2="868.5" y1="964.5" y2="970.5" stroke="#000" stroke-width="1.7"/><line x1="890.5" x2="890.5" y1="964.5" y2="970.5" stroke="#000" stroke-width="1.7"/><line x1="909.9" x2="909.9" y1="964.5" y2="970.5" stroke="#000" stroke-width="1.7"/><line x1="151.0" x2="161.0" y1="307.2" y2="307.2" stroke="#000" stroke-width="2.2"/><line x1="151.0" x2="161.0" y1="18.8" y2="18.8" stroke="#000" stroke-width="2.2"/><line x1="155.0" x2="161.0" y1="457.8" y2="457.8" stroke="#000" stroke-width="1.7"/><line x1="155.0" x2="161.0" y1="421.8" y2="421.8" stroke="#000" stroke-width="1.7"/><line x1="155.0" x2="161.0" y1="393.9" y2="393.9" stroke="#000" stroke-width="1.7"/><line x1="155.0" x2="161.0" y1="371.1" y2="371.1" stroke="#000" stroke-width="1.7"/><line x1="155.0" x2="161.0" y1="351.8" y2="351.8" stroke="#000" stroke-width="1.7"/><line x1="155.0" x2="161.0" y1="335.2" y2="335.2" stroke="#000" stroke-width="1.7"/><line x1="155.0" x2="161.0" y1="320.4" y2="320.4" stroke="#000" stroke-width="1.7"/><line x1="155.0" x2="161.0" y1="220.6" y2="220.6" stroke="#000" stroke-width="1.7"/><line x1="155.0" x2="161.0" y1="169.9" y2="169.9" stroke="#000" stroke-width="1.7"/><line x1="155.0" x2="161.0" y1="133.9" y2="133.9" stroke="#000" stroke-width="1.7"/><line x1="155.0" x2="161.0" y1="106.0" y2="106.0" stroke="#000" stroke-width="1.7"/><line x1="155.0" x2="161.0" y1="83.2" y2="83.2" stroke="#000" stroke-width="1.7"/><line x1="155.0" x2="161.0" y1="63.9" y2="63.9" stroke="#000" stroke-width="1.7"/><line x1="155.0" x2="161.0" y1="47.3" y2="47.3" stroke="#000" stroke-width="1.7"/><line x1="155.0" x2="161.0" y1="32.5" y2="32.5" stroke="#000" stroke-width="1.7"/><line x1="151.0" x2="161.0" y1="913.0" y2="913.0" stroke="#000" stroke-width="2.2"/><line x1="151.0" x2="161.0" y1="809.3" y2="809.3" stroke="#000" stroke-width="2.2"/><line x1="151.0" x2="161.0" y1="705.6" y2="705.6" stroke="#000" stroke-width="2.2"/><line x1="151.0" x2="161.0" y1="601.9" y2="601.9" stroke="#000" stroke-width="2.2"/>
<g transform="translate(79.60,32.20)"><text transform="translate(0.00,0.00) scale(1.132,1)" x="-4.00" y="0" font-family="'DejaVu Serif Condensed', 'DejaVu Serif', 'Liberation Serif', serif" font-stretch="condensed" font-size="37.4" stroke="#000" stroke-width="0.25" xml:space="preserve">10</text><text transform="translate(46.50,-13.60) scale(1.000,1)" x="-2.75" y="0" font-family="'DejaVu Serif Condensed', 'DejaVu Serif', 'Liberation Serif', serif" font-stretch="condensed" font-size="25.4" stroke="#000" stroke-width="0.25" xml:space="preserve">1</text></g>
<g transform="translate(79.60,320.30)"><text transform="translate(0.00,0.00) scale(1.132,1)" x="-4.00" y="0" font-family="'DejaVu Serif Condensed', 'DejaVu Serif', 'Liberation Serif', serif" font-stretch="condensed" font-size="37.4" stroke="#000" stroke-width="0.25" xml:space="preserve">10</text><text transform="translate(46.50,-13.60) scale(1.000,1)" x="-1.50" y="0" font-family="'DejaVu Serif Condensed', 'DejaVu Serif', 'Liberation Serif', serif" font-stretch="condensed" font-size="25.4" stroke="#000" stroke-width="0.25" xml:space="preserve">0</text></g>
<g transform="translate(141.00,1012.50)"><text transform="translate(0.00,0.00) scale(1.132,1)" x="-4.00" y="0" font-family="'DejaVu Serif Condensed', 'DejaVu Serif', 'Liberation Serif', serif" font-stretch="condensed" font-size="37.4" stroke="#000" stroke-width="0.25" xml:space="preserve">10</text><text transform="translate(46.50,-13.60) scale(1.000,1)" x="-2.75" y="0" font-family="'DejaVu Serif Condensed', 'DejaVu Serif', 'Liberation Serif', serif" font-stretch="condensed" font-size="25.4" stroke="#000" stroke-width="0.25" xml:space="preserve">1</text></g>
<g transform="translate(519.80,1012.50)"><text transform="translate(0.00,0.00) scale(1.132,1)" x="-4.00" y="0" font-family="'DejaVu Serif Condensed', 'DejaVu Serif', 'Liberation Serif', serif" font-stretch="condensed" font-size="37.4" stroke="#000" stroke-width="0.25" xml:space="preserve">10</text><text transform="translate(46.50,-13.60) scale(1.000,1)" x="-1.50" y="0" font-family="'DejaVu Serif Condensed', 'DejaVu Serif', 'Liberation Serif', serif" font-stretch="condensed" font-size="25.4" stroke="#000" stroke-width="0.25" xml:space="preserve">2</text></g>
<g transform="translate(898.60,1012.50)"><text transform="translate(0.00,0.00) scale(1.132,1)" x="-4.00" y="0" font-family="'DejaVu Serif Condensed', 'DejaVu Serif', 'Liberation Serif', serif" font-stretch="condensed" font-size="37.4" stroke="#000" stroke-width="0.25" xml:space="preserve">10</text><text transform="translate(46.50,-13.60) scale(1.000,1)" x="-1.50" y="0" font-family="'DejaVu Serif Condensed', 'DejaVu Serif', 'Liberation Serif', serif" font-stretch="condensed" font-size="25.4" stroke="#000" stroke-width="0.25" xml:space="preserve">3</text></g>
<g transform="translate(120.40,926.70)"><text transform="translate(0.00,0.00) scale(1.150,1)" x="-2.25" y="0" font-family="'DejaVu Serif Condensed', 'DejaVu Serif', 'Liberation Serif', serif" font-stretch="condensed" font-size="37.4" stroke="#000" stroke-width="0.25" xml:space="preserve">2</text></g>
<g transform="translate(120.40,823.00)"><text transform="translate(0.00,0.00) scale(1.115,1)" x="-2.50" y="0" font-family="'DejaVu Serif Condensed', 'DejaVu Serif', 'Liberation Serif', serif" font-stretch="condensed" font-size="37.4" stroke="#000" stroke-width="0.25" xml:space="preserve">3</text></g>
<g transform="translate(120.40,719.30)"><text transform="translate(0.00,0.00) scale(0.981,1)" x="-1.00" y="0" font-family="'DejaVu Serif Condensed', 'DejaVu Serif', 'Liberation Serif', serif" font-stretch="condensed" font-size="37.4" stroke="#000" stroke-width="0.25" xml:space="preserve">4</text></g>
<g transform="translate(120.40,615.60)"><text transform="translate(0.00,0.00) scale(1.132,1)" x="-2.75" y="0" font-family="'DejaVu Serif Condensed', 'DejaVu Serif', 'Liberation Serif', serif" font-stretch="condensed" font-size="37.4" stroke="#000" stroke-width="0.25" xml:space="preserve">5</text></g>
<g transform="translate(492.20,1063.70)"><text transform="translate(0.00,0.00) scale(1.000,1)" x="-1.25" y="0" font-family="'Liberation Serif', 'DejaVu Serif', serif" font-size="44.44" xml:space="preserve">E/n</text><text transform="translate(64.50,5.60) scale(1.000,1)" x="-1.25" y="0" font-family="'Liberation Serif', 'DejaVu Serif', serif" font-size="31.11" xml:space="preserve">gas</text><text transform="translate(120.80,0.00) scale(1.000,1)" x="-2.00" y="0" font-family="'Liberation Serif', 'DejaVu Serif', serif" font-size="44.44" xml:space="preserve">(Td)</text></g>
<g transform="translate(49.40,399.70) rotate(-90)"><text transform="translate(0.00,0.00) scale(0.993,1)" x="-1.50" y="0" font-family="'DejaVu Serif Condensed', 'DejaVu Serif', 'Liberation Serif', serif" font-stretch="condensed" font-size="40.9" stroke="#000" stroke-width="0.25" font-style="italic" xml:space="preserve">α</text><text transform="translate(23.00,0.00) scale(1.072,1)" x="-0.00" y="0" font-family="'DejaVu Serif Condensed', 'DejaVu Serif', 'Liberation Serif', serif" font-stretch="condensed" font-size="40.9" stroke="#000" stroke-width="0.25" xml:space="preserve">/</text><text transform="translate(37.20,0.00) scale(1.045,1)" x="-2.50" y="0" font-family="'DejaVu Serif Condensed', 'DejaVu Serif', 'Liberation Serif', serif" font-stretch="condensed" font-size="40.9" stroke="#000" stroke-width="0.25" font-style="italic" xml:space="preserve">n</text><text transform="translate(59.10,6.00) scale(0.912,1)" x="-1.25" y="0" font-family="'DejaVu Serif Condensed', 'DejaVu Serif', 'Liberation Serif', serif" font-stretch="condensed" font-size="29.9" stroke="#000" stroke-width="0.25" xml:space="preserve">gas</text><text transform="translate(115.70,0.00) scale(1.300,1)" x="-2.75" y="0" font-family="'DejaVu Serif Condensed', 'DejaVu Serif', 'Liberation Serif', serif" font-stretch="condensed" font-size="40.9" stroke="#000" stroke-width="0.25" xml:space="preserve">(</text><text transform="translate(131.10,0.00) scale(1.031,1)" x="-4.25" y="0" font-family="'DejaVu Serif Condensed', 'DejaVu Serif', 'Liberation Serif', serif" font-stretch="condensed" font-size="40.9" stroke="#000" stroke-width="0.25" xml:space="preserve">10</text><text transform="translate(176.60,-16.90) scale(0.971,1)" x="-2.75" y="0" font-family="'DejaVu Serif Condensed', 'DejaVu Serif', 'Liberation Serif', serif" font-stretch="condensed" font-size="29.9" stroke="#000" stroke-width="0.25" xml:space="preserve">−21</text><text transform="translate(231.00,0.00) scale(0.800,1)" x="-1.25" y="0" font-family="'DejaVu Serif Condensed', 'DejaVu Serif', 'Liberation Serif', serif" font-stretch="condensed" font-size="40.9" stroke="#000" stroke-width="0.25" xml:space="preserve">m</text><text transform="translate(264.60,-16.90) scale(1.145,1)" x="-1.75" y="0" font-family="'DejaVu Serif Condensed', 'DejaVu Serif', 'Liberation Serif', serif" font-stretch="condensed" font-size="29.9" stroke="#000" stroke-width="0.25" xml:space="preserve">2</text><text transform="translate(280.60,0.00) scale(1.300,1)" x="-2.50" y="0" font-family="'DejaVu Serif Condensed', 'DejaVu Serif', 'Liberation Serif', serif" font-stretch="condensed" font-size="40.9" stroke="#000" stroke-width="0.25" xml:space="preserve">)</text></g>
<g transform="translate(91.30,944.30) rotate(-90)"><text transform="translate(0.00,0.00) scale(1.065,1)" x="-1.50" y="0" font-family="'DejaVu Serif Condensed', 'DejaVu Serif', 'Liberation Serif', serif" font-stretch="condensed" font-size="40.9" stroke="#000" stroke-width="0.25" font-style="italic" xml:space="preserve">μ</text><text transform="translate(24.00,0.00) scale(1.077,1)" x="-2.50" y="0" font-family="'DejaVu Serif Condensed', 'DejaVu Serif', 'Liberation Serif', serif" font-stretch="condensed" font-size="40.9" stroke="#000" stroke-width="0.25" font-style="italic" xml:space="preserve">n</text><text transform="translate(47.40,6.00) scale(0.935,1)" x="-1.25" y="0" font-family="'DejaVu Serif Condensed', 'DejaVu Serif', 'Liberation Serif', serif" font-stretch="condensed" font-size="29.9" stroke="#000" stroke-width="0.25" xml:space="preserve">gas</text><text transform="translate(104.60,0.00) scale(1.300,1)" x="-2.75" y="0" font-family="'DejaVu Serif Condensed', 'DejaVu Serif', 'Liberation Serif', serif" font-stretch="condensed" font-size="40.9" stroke="#000" stroke-width="0.25" xml:space="preserve">(</text><text transform="translate(120.10,0.00) scale(0.954,1)" x="-4.25" y="0" font-family="'DejaVu Serif Condensed', 'DejaVu Serif', 'Liberation Serif', serif" font-stretch="condensed" font-size="40.9" stroke="#000" stroke-width="0.25" xml:space="preserve">10</text><text transform="translate(161.10,-17.00) scale(0.976,1)" x="-1.75" y="0" font-family="'DejaVu Serif Condensed', 'DejaVu Serif', 'Liberation Serif', serif" font-stretch="condensed" font-size="29.9" stroke="#000" stroke-width="0.25" xml:space="preserve">24</text><text transform="translate(198.10,0.00) scale(1.092,1)" x="0.50" y="0" font-family="'DejaVu Serif Condensed', 'DejaVu Serif', 'Liberation Serif', serif" font-stretch="condensed" font-size="40.9" stroke="#000" stroke-width="0.25" xml:space="preserve">V</text><text transform="translate(232.80,-17.00) scale(0.956,1)" x="-2.75" y="0" font-family="'DejaVu Serif Condensed', 'DejaVu Serif', 'Liberation Serif', serif" font-stretch="condensed" font-size="29.9" stroke="#000" stroke-width="0.25" xml:space="preserve">−1</text><text transform="translate(270.50,0.00) scale(1.014,1)" x="-1.25" y="0" font-family="'DejaVu Serif Condensed', 'DejaVu Serif', 'Liberation Serif', serif" font-stretch="condensed" font-size="40.9" stroke="#000" stroke-width="0.25" xml:space="preserve">m</text><text transform="translate(307.40,-17.00) scale(0.974,1)" x="-2.75" y="0" font-family="'DejaVu Serif Condensed', 'DejaVu Serif', 'Liberation Serif', serif" font-stretch="condensed" font-size="29.9" stroke="#000" stroke-width="0.25" xml:space="preserve">−1</text><text transform="translate(347.20,0.00) scale(0.872,1)" x="-2.00" y="0" font-family="'DejaVu Serif Condensed', 'DejaVu Serif', 'Liberation Serif', serif" font-stretch="condensed" font-size="40.9" stroke="#000" stroke-width="0.25" xml:space="preserve">s</text><text transform="translate(364.90,-17.00) scale(0.977,1)" x="-2.75" y="0" font-family="'DejaVu Serif Condensed', 'DejaVu Serif', 'Liberation Serif', serif" font-stretch="condensed" font-size="29.9" stroke="#000" stroke-width="0.25" xml:space="preserve">−1</text><text transform="translate(400.30,0.00) scale(1.300,1)" x="-2.50" y="0" font-family="'DejaVu Serif Condensed', 'DejaVu Serif', 'Liberation Serif', serif" font-stretch="condensed" font-size="40.9" stroke="#000" stroke-width="0.25" xml:space="preserve">)</text></g>
<rect x="129" y="1082.3" width="772.3" height="609.4" rx="5.5" ry="5.5" fill="#fff" stroke="#d2d2d2" stroke-width="2.9"/>
<line x1="141.9" x2="208.8" y1="1110.3" y2="1110.3" stroke="#00a8a8" stroke-width="3.1" stroke-dasharray="10.85 4.25"/>
<line x1="141.9" x2="208.8" y1="1160.2" y2="1160.2" stroke="#0000ff" stroke-width="3.1" stroke-dasharray="10.85 4.25"/>
<line x1="141.9" x2="208.8" y1="1210.2" y2="1210.2" stroke="#ffa500" stroke-width="3.1" stroke-dasharray="10.85 4.25"/>
<line x1="141.9" x2="208.8" y1="1260.1" y2="1260.1" stroke="#ff0000" stroke-width="3.1" stroke-dasharray="10.85 4.25"/>
<polygon points="157.1,1292.0 193.1,1292.0 175.1,1328.0" fill="#00a8a8"/>
<polygon points="157.1,1342.0 193.1,1342.0 175.1,1378.0" fill="#0000ff"/>
<polygon points="157.1,1391.9 193.1,1391.9 175.1,1427.9" fill="#ffa500"/>
<polygon points="157.1,1441.8 193.1,1441.8 175.1,1477.8" fill="#ff0000"/>
<circle cx="175.1" cy="1507.8" r="10.1" fill="#abffab"/>
<circle cx="175.1" cy="1559.7" r="10.1" fill="#dec0b0"/>
<circle cx="175.1" cy="1610.8" r="10.1" fill="#ffaa1e"/>
<circle cx="175.1" cy="1660.6" r="10.1" fill="#b02064"/>
<text font-family="'DejaVu Sans Mono', 'Liberation Mono', monospace" font-size="33.05" x="234.8" y="1121.6" xml:space="preserve">Flux Bolsig (Equal)</text>
<text font-family="'DejaVu Sans Mono', 'Liberation Mono', monospace" font-size="33.05" x="234.8" y="1171.6" xml:space="preserve">Flux Bolsig (One Takes All)</text>
<text font-family="'DejaVu Sans Mono', 'Liberation Mono', monospace" font-size="33.05" x="234.8" y="1221.6" xml:space="preserve">Bulk Bolsig (Equal)</text>
<text font-family="'DejaVu Sans Mono', 'Liberation Mono', monospace" font-size="33.05" x="234.8" y="1271.6" xml:space="preserve">Bulk Bolsig (One Takes All)</text>
<text font-family="'DejaVu Sans Mono', 'Liberation Mono', monospace" font-size="33.05" x="234.8" y="1321.6" xml:space="preserve">Flux ThunderBoltz (Equal)</text>
<text font-family="'DejaVu Sans Mono', 'Liberation Mono', monospace" font-size="33.05" x="234.8" y="1371.6" xml:space="preserve">Flux ThunderBoltz (One Takes All)</text>
<text font-family="'DejaVu Sans Mono', 'Liberation Mono', monospace" font-size="33.05" x="234.8" y="1421.6" xml:space="preserve">Bulk ThunderBoltz (Equal)</text>
<text font-family="'DejaVu Sans Mono', 'Liberation Mono', monospace" font-size="33.05" x="234.8" y="1471.6" xml:space="preserve">Bulk ThunderBoltz (One Takes All)</text>
<text font-family="'DejaVu Sans Mono', 'Liberation Mono', monospace" font-size="33.05" x="234.8" y="1518.1" xml:space="preserve">DallArmi</text>
<text font-family="'Liberation Serif', 'DejaVu Serif', serif" font-style="italic" font-size="33.2" x="413.4" y="1518.1">et</text>
<text font-family="'Liberation Serif', 'DejaVu Serif', serif" font-style="italic" font-size="33.2" x="457.3" y="1518.1">al.</text>
<text font-family="'DejaVu Sans Mono', 'Liberation Mono', monospace" font-size="33.05" x="515.5" y="1518.1" xml:space="preserve">1992</text>
<text font-family="'DejaVu Sans Mono', 'Liberation Mono', monospace" font-size="33.05" x="234.8" y="1569.4" xml:space="preserve">Kücükarpaci</text>
<text font-family="'Liberation Serif', 'DejaVu Serif', serif" font-style="italic" font-size="33.2" x="473.1" y="1569.4">et</text>
<text font-family="'Liberation Serif', 'DejaVu Serif', serif" font-style="italic" font-size="33.2" x="517.0" y="1569.4">al.</text>
<text font-family="'DejaVu Sans Mono', 'Liberation Mono', monospace" font-size="33.05" x="575.2" y="1569.4" xml:space="preserve">1981</text>
<text font-family="'DejaVu Sans Mono', 'Liberation Mono', monospace" font-size="33.05" x="234.8" y="1620.4" xml:space="preserve">Lakshminarasimha</text>
<text font-family="'Liberation Serif', 'DejaVu Serif', serif" font-style="italic" font-size="33.2" x="572.6" y="1620.4">et</text>
<text font-family="'Liberation Serif', 'DejaVu Serif', serif" font-style="italic" font-size="33.2" x="616.5" y="1620.4">al.</text>
<text font-family="'DejaVu Sans Mono', 'Liberation Mono', monospace" font-size="33.05" x="674.7" y="1620.4" xml:space="preserve">1975</text>
<text font-family="'DejaVu Sans Mono', 'Liberation Mono', monospace" font-size="33.05" x="234.8" y="1673.2" xml:space="preserve">Stern 1963</text>
</svg>
</body></html>
